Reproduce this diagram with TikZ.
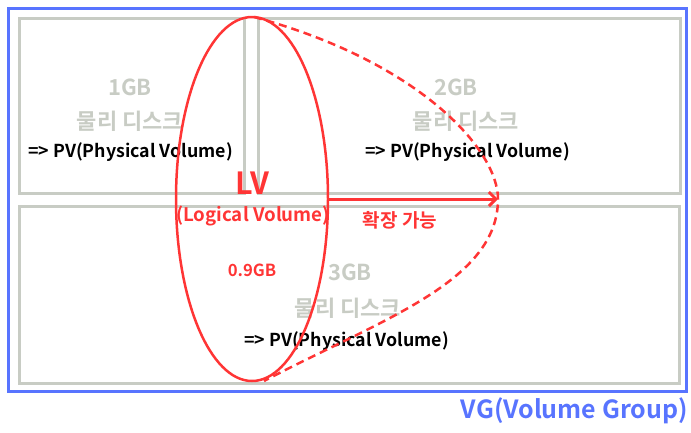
\documentclass[tikz,border=0pt]{standalone}
\usepackage{fontspec}
\setmainfont{Noto Sans CJK KR}
\newfontfamily\heavy{Noto Sans CJK KR Bold}
\usetikzlibrary{arrows.meta}
\definecolor{boxgray}{HTML}{C8CCC4}
\definecolor{lvred}{HTML}{FF3535}
\definecolor{vgblue}{HTML}{5874FF}
\tikzset{
  disk/.style={draw=boxgray, line width=3pt},
  sizetxt/.style={text=boxgray, font=\heavy\fontsize{22}{24}\selectfont, inner sep=0pt},
  kortxt/.style={text=boxgray, font=\heavy\fontsize{22}{24}\selectfont, inner sep=0pt},
  pvtxt/.style={text=black, font=\heavy\fontsize{17.8}{20}\selectfont, inner sep=0pt},
  redtxt/.style={text=lvred, font=\heavy\fontsize{18.7}{21}\selectfont, inner sep=0pt},
}
\begin{document}
\begin{tikzpicture}[x=1pt,y=-1pt]
\useasboundingbox (0,0) rectangle (691,432);
% VG
\node[draw=vgblue, line width=2.5pt, minimum width=678pt, minimum height=383pt, anchor=north west, inner sep=0pt] (vg) at (7,7) {};
\node[text=vgblue, font=\heavy\fontsize{25}{28}\selectfont, anchor=east, inner sep=0pt] (vglabel) at (688,411) {VG(Volume Group)};
% disks
\node[disk, minimum width=225pt, minimum height=175pt, anchor=north west, inner sep=0pt] (d1) at (18,17) {};
\node[disk, minimum width=422pt, minimum height=175pt, anchor=north west, inner sep=0pt] (d2) at (257,17) {};
\node[disk, minimum width=660pt, minimum height=177pt, anchor=north west, inner sep=0pt] (d3) at (18,205) {};
% disk labels
\node[sizetxt] (s1) at (130,87) {1GB};
\node[kortxt] (k1) at (130,121) {물리 디스크};
\node[pvtxt, anchor=west] (p1) at (28,152) {=> PV(Physical Volume)};
\node[sizetxt] (s2) at (456,87) {2GB};
\node[kortxt] (k2) at (466,121) {물리 디스크};
\node[pvtxt, anchor=west] (p2) at (365,152) {=> PV(Physical Volume)};
\node[sizetxt] (s3) at (350,272) {3GB};
\node[kortxt] (k3) at (348,308) {물리 디스크};
\node[pvtxt, anchor=west] (p3) at (244,341) {=> PV(Physical Volume)};
% LV ellipse
\draw[lvred, line width=2.5pt] (252,199) ellipse [x radius=76, y radius=182];
\coordinate (lvtop) at (254,17);
\coordinate (lvbot) at (264,381);
\coordinate (lvright) at (328,199);
\coordinate (ext) at (498,199);
\draw[lvred, line width=2.5pt, dashed, dash pattern=on 8pt off 5pt]
  (lvtop) .. controls (420,62) and (498,150) .. (ext)
  .. controls (498,282) and (380,320) .. (lvbot);
\draw[lvred, line width=3pt, -{Straight Barb[length=7pt,width=14pt,line width=3pt]}] (lvright) -- (ext);
\node[text=lvred, font=\heavy\fontsize{30.5}{32}\selectfont, inner sep=0pt] (lv) at (252,183) {LV};
\node[redtxt] (lvname) at (253,216) {(Logical Volume)};
\node[redtxt, font=\heavy\fontsize{16.7}{18}\selectfont] (gb) at (252,270) {0.9GB};
\node[redtxt, font=\heavy\fontsize{19}{21}\selectfont] (extlabel) at (400,220) {확장 가능};
\end{tikzpicture}
\end{document}
